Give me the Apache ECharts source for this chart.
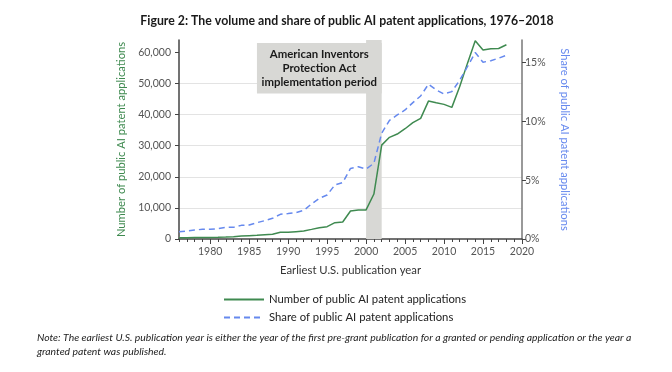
<!DOCTYPE html>
<html>
<head>
<meta charset="utf-8">
<script src="https://cdn.jsdelivr.net/npm/echarts@6/dist/echarts.min.js"></script>
<style>html,body{margin:0;padding:0;background:#fff;}#c{width:672px;height:372px;}</style>
</head>
<body>
<div id="c"></div>
<script>
const years = [1976,1977,1978,1979,1980,1981,1982,1983,1984,1985,1986,1987,1988,1989,1990,1991,1992,1993,1994,1995,1996,1997,1998,1999,2000,2001,2002,2003,2004,2005,2006,2007,2008,2009,2010,2011,2012,2013,2014,2015,2016,2017,2018];
const counts = [400,430,470,480,520,560,620,740,960,1070,1180,1400,1500,2150,2150,2360,2570,3100,3640,3960,5250,5460,9000,9320,9350,14460,30200,32700,33750,35460,37400,38800,44360,43800,43300,42330,48960,56480,63740,60750,61170,61280,62460];
const shares = [0.62,0.68,0.77,0.82,0.82,0.88,0.99,0.99,1.16,1.19,1.39,1.56,1.76,2.1,2.16,2.24,2.44,2.98,3.46,3.74,4.6,4.8,6.0,6.15,5.96,6.44,9.0,10.1,10.55,10.98,11.6,12.17,13.17,12.68,12.34,12.54,13.5,14.66,15.86,15.04,15.17,15.38,15.63];
const xTickLabels = [1980,1985,1990,1995,2000,2005,2010,2015,2020];
const leftTicks = [0,10000,20000,30000,40000,50000,60000];
const rightTicks = [0,5,10,15];
const aipaPeriod = [2000, 2002];
const seriesNames = ['Number of public AI patent applications','Share of public AI patent applications'];

const FONT = 'Lato';
const green = '#3f8a50';
const blue = '#6689ee';
const chart = echarts.init(document.getElementById('c'), null, {renderer:'canvas'});
chart.setOption({
  animation: false,
  textStyle: {fontFamily: FONT},
  title: {
    text: 'Figure 2: The volume and share of public AI patent applications, 1976–2018',
    left: 342, top: 10, textAlign: 'center',
    textStyle: {fontFamily: FONT, fontSize: 12.3, fontWeight: 'bold', color: '#1a1a1a'}
  },
  grid: {left: 179, right: 150, top: 40, bottom: 133, containLabel: false},
  legend: {
    orient: 'vertical', left: 218, top: 289, itemWidth: 40, itemHeight: 10, itemGap: 7,
    itemStyle: {opacity: 0, borderWidth: 0},
    textStyle: {fontFamily: FONT, fontSize: 11.3, color: '#222'},
    data: seriesNames
  },
  xAxis: [{
    type: 'value', min: 1976, max: 2020, interval: 1,
    name: 'Earliest U.S. publication year', nameLocation: 'middle', nameGap: 26,
    nameTextStyle: {fontFamily: FONT, fontSize: 11.3, color: '#333'},
    axisLine: {lineStyle: {color: '#444', width: 1.5}},
    axisTick: {length: 3, lineStyle: {color: '#444'}},
    axisLabel: {customValues: xTickLabels, formatter: v => String(v), margin: 7, fontSize: 10.5, color: '#555', fontFamily: FONT},
    splitLine: {show: false}
  }, {
    type: 'value', min: 1976, max: 2020, interval: 1, position: 'bottom',
    axisLine: {show: false},
    axisTick: {customValues: xTickLabels, length: 5, lineStyle: {color: '#444'}},
    axisLabel: {show: false}, splitLine: {show: false}
  }],
  yAxis: [{
    type: 'value', min: 0, max: 64000, interval: 10000,
    name: seriesNames[0], nameLocation: 'middle', nameGap: 50, nameRotate: 90,
    nameTextStyle: {fontFamily: FONT, fontSize: 11.2, color: green},
    axisLine: {show: true, lineStyle: {color: '#444', width: 1.5}},
    axisTick: {show: true, customValues: leftTicks, length: 4, lineStyle: {color: '#444'}},
    axisLabel: {customValues: leftTicks, margin: 8, fontSize: 10.5, color: '#555', fontFamily: FONT},
    splitLine: {show: true, showMaxLine: false, showMinLine: false, lineStyle: {color: '#e3e3e3', width: 1.2}}
  }, {
    type: 'value', min: 0, max: 16.93, interval: 5, position: 'right',
    name: seriesNames[1], nameLocation: 'middle', nameGap: 37, nameRotate: -90,
    nameTextStyle: {fontFamily: FONT, fontSize: 11.2, color: blue},
    axisLine: {show: true, lineStyle: {color: '#777', width: 1.5}},
    axisTick: {show: true, customValues: rightTicks, length: 4, lineStyle: {color: '#444'}},
    axisLabel: {customValues: rightTicks, formatter: v => v + '%', margin: 3, fontSize: 10.5, color: '#555', fontFamily: FONT},
    splitLine: {show: false}
  }],
  series: [{
    name: seriesNames[0], type: 'line', xAxisIndex: 0, yAxisIndex: 0, symbol: 'none',
    data: years.map((y, i) => [y, counts[i]]),
    lineStyle: {color: green, width: 1.5}, itemStyle: {color: green}, z: 3,
    markArea: {
      silent: true,
      data: [
        [{xAxis: aipaPeriod[0], yAxis: 0, itemStyle: {color: '#d8d8d5'}}, {xAxis: aipaPeriod[1], yAxis: 64000}],
        [{xAxis: 1986, yAxis: 63000, itemStyle: {color: '#d8d8d5'},
          label: {show: true, position: 'inside', formatter: 'American Inventors\nProtection Act\nimplementation period',
            fontFamily: FONT, fontWeight: 'bold', fontSize: 11.4, lineHeight: 14, color: '#1a1a1a', align: 'center'}},
         {xAxis: aipaPeriod[1], yAxis: 46830}]
      ]
    }
  }, {
    name: seriesNames[1], type: 'line', xAxisIndex: 0, yAxisIndex: 1, symbol: 'none',
    data: years.map((y, i) => [y, shares[i]]),
    lineStyle: {color: blue, width: 1.5, type: [6, 4]}, itemStyle: {color: blue}, z: 3
  }],
  graphic: [{
    type: 'text', left: 37, top: 331,
    style: {
      text: 'Note: The earliest U.S. publication year is either the year of the first pre-grant publication for a granted or pending application or the year a\ngranted patent was published.',
      font: 'italic 10.4px ' + FONT, fill: '#222', lineHeight: 14
    }
  }]
});
</script>
</body>
</html>
